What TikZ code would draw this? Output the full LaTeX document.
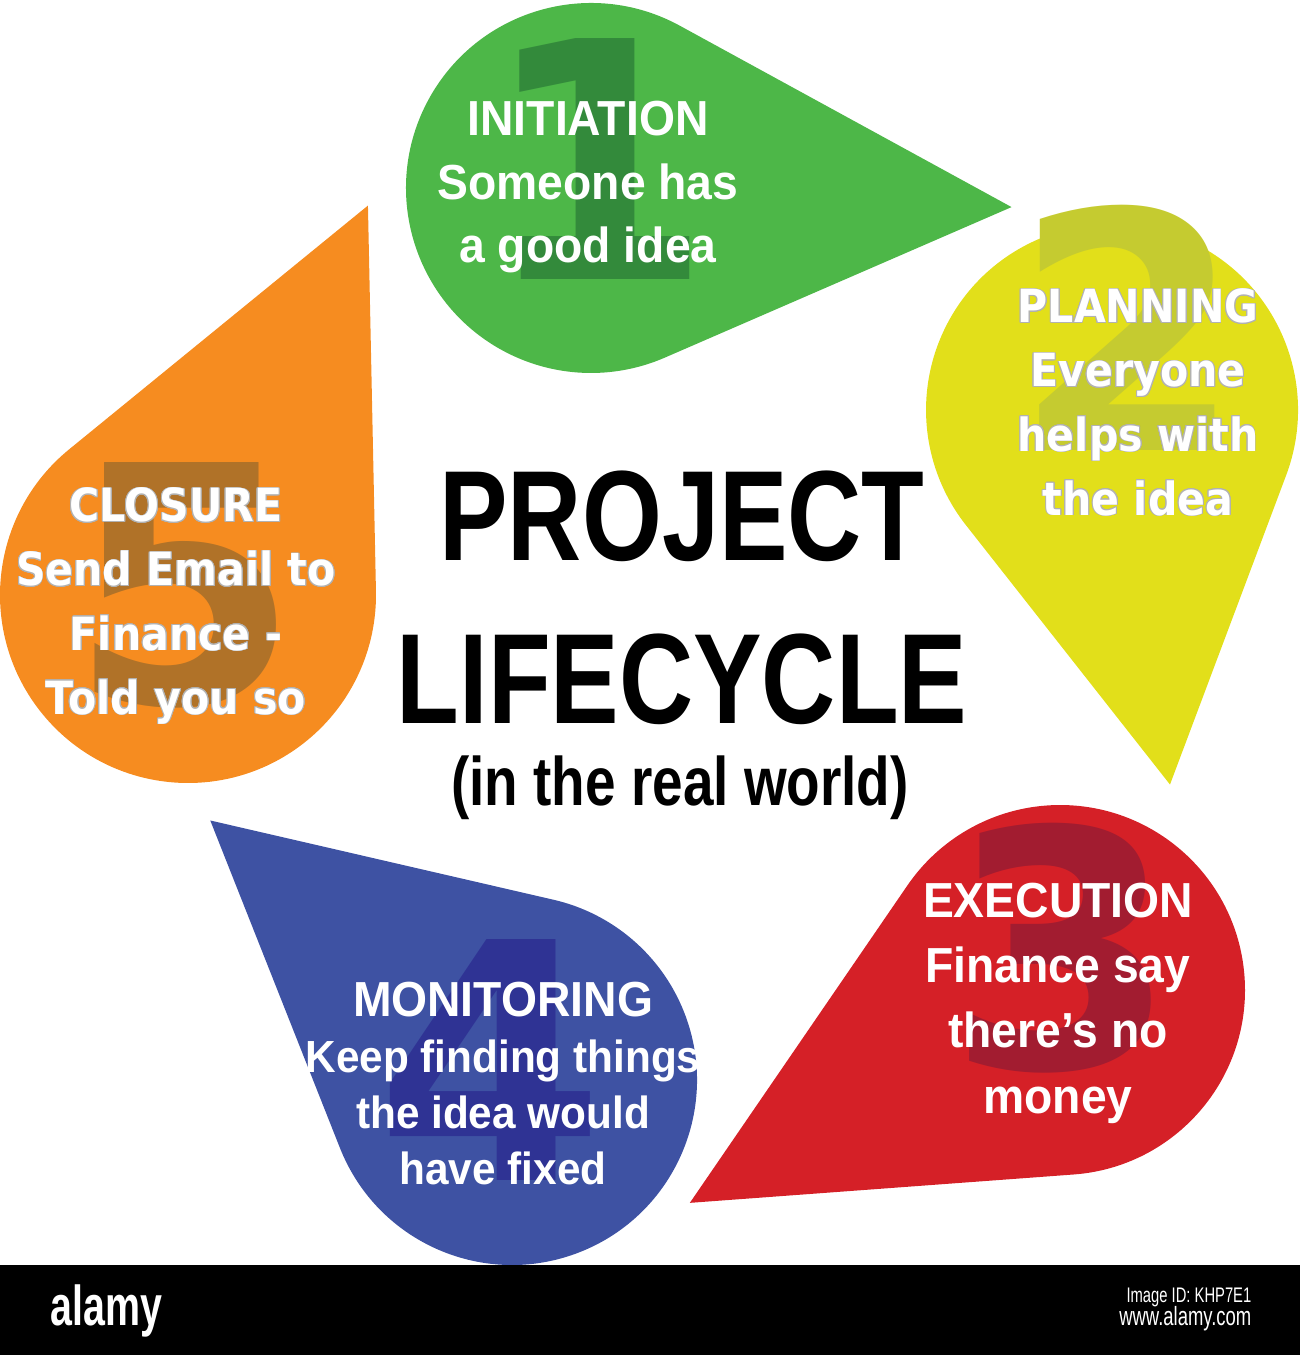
\documentclass[tikz,border=0pt]{standalone}
\usepackage{fontspec}
\usepackage{contour}
\setmainfont{Liberation Sans}
\newfontfamily\condfont[FakeStretch=0.94]{Liberation Sans}
\newfontfamily\widefont[FakeStretch=0.9]{DejaVu Sans}
\newfontfamily\titlefont[FakeStretch=0.8]{Liberation Sans}
\newfontfamily\logofont[FakeStretch=0.7]{Liberation Sans}
\newfontfamily\digitfont{DejaVu Sans}
\definecolor{dropgreen}{HTML}{4DB748}
\definecolor{dropyellow}{HTML}{E2DF1A}
\definecolor{dropred}{HTML}{D52027}
\definecolor{dropblue}{HTML}{3E52A3}
\definecolor{droporange}{HTML}{F68C20}
\definecolor{numgreen}{HTML}{338A3B}
\definecolor{numyellow}{HTML}{C5CB30}
\definecolor{numred}{HTML}{A21C30}
\definecolor{numblue}{HTML}{2F3394}
\definecolor{numorange}{HTML}{B07228}
\contourlength{0.25pt}
\begin{document}
\begin{tikzpicture}[x=0.01cm, y=0.01cm,
  lbl/.style={white, align=center, inner sep=0, anchor=base},
  bignum/.style={inner sep=0, anchor=base, font=\digitfont\bfseries\fontsize{94}{94}\selectfont},
  headline/.style={inner sep=0, anchor=base, font=\titlefont\bfseries\fontsize{36.5}{36.5}\selectfont}]

\useasboundingbox (0,0) rectangle (1300,-1355);

% the five drops
\fill[dropgreen, shift={(591,-188)}, rotate=-2.6] (421,0) -- (64:185) arc[start angle=64, end angle=296, radius=185] -- cycle;
\fill[dropyellow, shift={(1112,-410)}, rotate=-81.2] (379,0) -- (60.7:186) arc[start angle=60.7, end angle=299.3, radius=186] -- cycle;
\fill[dropred, shift={(1060,-990)}, rotate=-150.1] (427,0) -- (64.3:185) arc[start angle=64.3, end angle=295.7, radius=185] -- cycle;
\fill[dropblue, shift={(512,-1080)}, rotate=139.3] (398,0) -- (62.3:185) arc[start angle=62.3, end angle=297.7, radius=185] -- cycle;
\fill[droporange, shift={(188,-595)}, rotate=65.2] (429,0) -- (64:188) arc[start angle=64, end angle=296, radius=188] -- cycle;

% big numbers
\node[bignum, numgreen] (n1) at (597,-280) {1};
\node[bignum, numyellow] (n2) at (1128,-450) {2};
\node[bignum, numred] (n3) at (1062,-1068) {3};
\node[bignum, numblue] (n4) at (490,-1180) {4};
\node[bignum, numorange] (n5) at (185,-703) {5};

% phase texts (base = last line)
\node[lbl, font=\condfont\bfseries\fontsize{14}{18.1}\selectfont] (initiation) at (588,-263)
  {INITIATION\\Someone has\\a good idea};
\node[lbl, font=\widefont\bfseries\fontsize{13}{18.2}\selectfont] (planning) at (1138,-515)
  {\contour{gray!60}{PLANNING}\\\contour{gray!60}{Everyone}\\\contour{gray!60}{helps with}\\\contour{gray!60}{the idea}};
\node[lbl, font=\condfont\bfseries\fontsize{14}{18.5}\selectfont] (execution) at (1058,-1113)
  {EXECUTION\\Finance say\\there’s no\\money};
\node[lbl, font=\condfont\bfseries\fontsize{12.8}{15.9}\selectfont] (monitoring) at (503,-1184)
  {{\fontsize{14}{15.9}\selectfont MONITORING}\\Keep finding things\\the idea would\\have fixed};
\node[lbl, font=\widefont\bfseries\fontsize{13}{18.2}\selectfont] (closure) at (176,-714)
  {\contour{gray!60}{CLOSURE}\\\contour{gray!60}{Send Email to}\\\contour{gray!60}{Finance -}\\\contour{gray!60}{Told you so}};

% title
\node[headline] (project) at (682,-560) {PROJECT};
\node[headline] (lifecycle) at (682,-723) {LIFECYCLE};
\node[inner sep=0, anchor=base, font=\titlefont\bfseries\fontsize{19.5}{19.5}\selectfont] (realworld) at (680,-805) {(in the real world)};

% bottom strip
\fill[black] (0,-1265) rectangle (1300,-1355);
\node[white, inner sep=0, anchor=base west, font=\logofont\bfseries\fontsize{16}{16}\selectfont] (logo) at (50,-1325) {alamy};
\node[white, inner sep=0, anchor=base east, font=\logofont\fontsize{6}{6}\selectfont] (imageid) at (1252,-1302) {Image ID: KHP7E1};
\node[white, inner sep=0, anchor=base east, font=\logofont\fontsize{7.5}{7.5}\selectfont] (site) at (1252,-1325) {www.alamy.com};

\end{tikzpicture}
\end{document}
